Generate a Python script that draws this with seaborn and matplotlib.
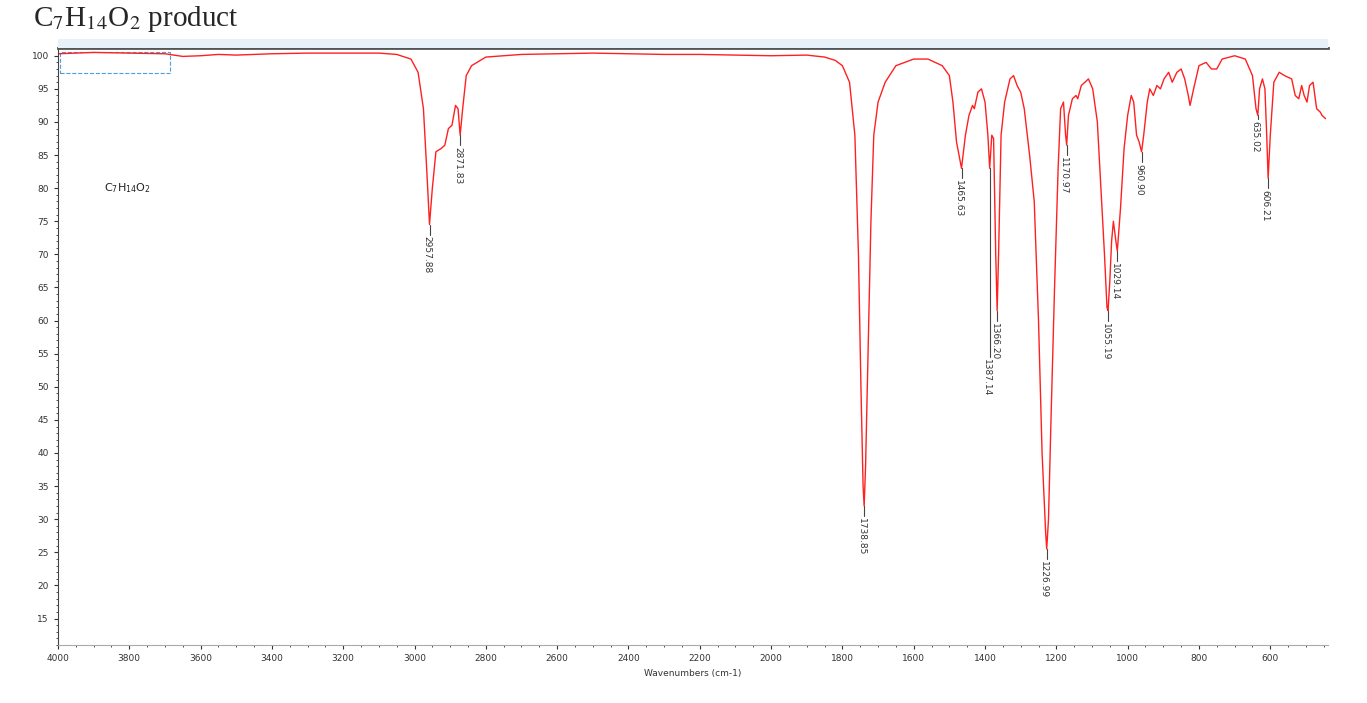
import matplotlib
matplotlib.use("Agg")
import matplotlib.pyplot as plt
import seaborn as sns
import pandas as pd
from matplotlib.patches import Rectangle

wavenumber = [4000, 3900, 3800, 3700, 3650, 3600, 3550, 3500, 3400, 3300, 3200, 3100, 3050, 3010, 2990, 2975, 2965, 2958, 2950, 2940, 2925, 2915, 2905, 2895, 2885, 2878, 2872, 2865, 2855, 2840, 2800, 2700, 2500, 2300, 2200, 2100, 2000, 1900, 1850, 1820, 1800, 1780, 1765, 1755, 1748, 1742, 1739, 1735, 1728, 1720, 1712, 1700, 1680, 1650, 1600, 1560, 1520, 1500, 1490, 1480, 1466, 1455, 1445, 1435, 1430, 1420, 1410, 1400, 1392, 1387, 1381, 1376, 1370, 1366, 1362, 1355, 1345, 1330, 1320, 1310, 1300, 1290, 1275, 1262, 1250, 1240, 1230, 1227, 1222, 1215, 1205, 1195, 1188, 1180, 1174, 1171, 1166, 1155, 1145, 1140, 1130, 1110, 1098, 1085, 1075, 1065, 1058, 1055, 1050, 1045, 1040, 1033, 1029, 1020, 1010, 1000, 990, 983, 975, 968, 961, 955, 945, 938, 928, 918, 908, 898, 885, 875, 862, 850, 840, 830, 825, 815, 800, 780, 765, 750, 735, 700, 670, 650, 640, 635, 630, 622, 615, 610, 606, 600, 590, 575, 560, 540, 530, 520, 512, 505, 497, 490, 480, 470, 460, 455, 445]
transmittance = [100.3, 100.5, 100.4, 100.3, 99.9, 100.0, 100.2, 100.1, 100.3, 100.4, 100.4, 100.4, 100.2, 99.5, 97.5, 92, 82, 74.5, 80, 85.5, 86, 86.5, 89, 89.5, 92.5, 92, 88, 92, 97, 98.5, 99.8, 100.2, 100.4, 100.2, 100.2, 100.1, 100, 100.1, 99.8, 99.3, 98.5, 96, 88, 70, 50, 35, 32, 38, 55, 75, 88, 93, 96, 98.5, 99.5, 99.5, 98.5, 97, 93, 87, 83, 88, 91, 92.5, 92, 94.5, 95, 93, 88, 83, 88, 87.5, 70, 61.5, 70, 88, 93, 96.5, 97, 95.5, 94.5, 92, 85, 78, 60, 40, 28, 25.5, 30, 45, 65, 83, 92, 93, 88, 86.5, 91, 93.5, 94, 93.5, 95.5, 96.5, 95, 90, 80, 70, 62, 61.5, 66, 72, 75, 72, 70.5, 77, 86, 91, 94, 93, 88, 87, 85.5, 88, 93, 95, 94, 95.5, 95, 96.5, 97.5, 96, 97.5, 98, 96.5, 94, 92.5, 95, 98.5, 99, 98, 98, 99.5, 100, 99.5, 97, 92, 91, 95, 96.5, 95, 88, 81.5, 88, 96, 97.5, 97, 96.5, 94, 93.5, 95.5, 94, 93, 95.5, 96, 92, 91.5, 91, 90.5]

peak_wn = [2957.88, 2871.83, 1738.85, 1465.63, 1387.14, 1366.20, 1226.99, 1170.97, 1055.19, 1029.14, 960.90, 635.02, 606.21]
peak_t = [74.5, 88, 32, 83, 83, 61.5, 25.5, 86.5, 61.5, 70.5, 85.5, 91, 81.5]
label_t = [73, 86.5, 30.5, 81.5, 54.5, 60, 24, 85, 60, 69, 84, 90.5, 80]

df = pd.DataFrame({"wn": wavenumber, "T": transmittance})

sns.set_style("white")
plt.rcParams["mathtext.fontset"] = "stix"
fig = plt.figure(figsize=(13.67, 7.03), dpi=100)
ax = fig.add_axes([0.0424, 0.0825, 0.9291, 0.8495])
sns.lineplot(data=df, x="wn", y="T", ax=ax, color="#ff2020", linewidth=1.0, sort=False)
ax.set_xlim(4000, 438)
ax.set_ylim(11, 101.2)
ax.set_xticks(range(4000, 438, -200))
ax.set_xticks(range(4000, 438, -50), minor=True)
ax.set_yticks(range(15, 101, 5))
ax.set_yticks(range(11, 101, 1), minor=True)
ax.tick_params(axis="both", which="major", labelsize=6.5, length=3, direction="out", colors="#333333", bottom=True, left=True)
ax.tick_params(axis="both", which="minor", length=1.5, direction="out", colors="#333333", bottom=True, left=True)
ax.set_xlabel("Wavenumbers (cm-1)", fontsize=6.5, color="#333333")
ax.set_ylabel("")
ax.spines["right"].set_visible(False)
ax.spines["left"].set_color("#444444")
ax.spines["bottom"].set_color("#aaaaaa")
ax.spines["top"].set_color("#555555")
ax.spines["top"].set_linewidth(2)

for w, p, l in zip(peak_wn, peak_t, label_t):
    ax.plot([w, w], [p, l], color="#444444", linewidth=0.8)
    ax.text(w + 8, l - 0.3, f"{w:.2f}", rotation=-90, fontsize=6.5, color="#333333", ha="center", va="top")

ax.text(3870, 80, "C$_7$H$_{14}$O$_2$", fontsize=8, color="#222222", va="center", family="DejaVu Sans",
        math_fontfamily="dejavusans")
ax.add_patch(Rectangle((3995, 97.4), -310, 3.2, fill=False, edgecolor="#4aa0e0", linestyle="--", linewidth=0.8))

fig.patches.append(Rectangle((0.0424, 0.932), 0.9291, 0.013, transform=fig.transFigure, facecolor="#e8f0f8", edgecolor="none"))
fig.text(0.024, 0.995, r"C$_7$H$_{14}$O$_2$ product", fontsize=21, family="Liberation Serif", va="top", ha="left")
fig.savefig("out.png", dpi=100)
